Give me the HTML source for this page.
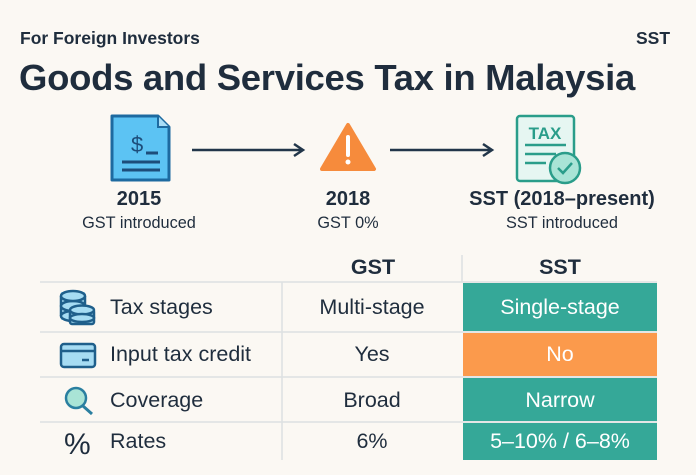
<!DOCTYPE html>
<html><head><meta charset="utf-8"><style>
body{margin:0;width:696px;height:475px;background:#fbf8f3;font-family:"Liberation Sans",sans-serif;color:#1f2d3d;position:relative;overflow:hidden}
.a{position:absolute;white-space:nowrap}
.c{transform:translateX(-50%)}
.cell{position:absolute;display:flex;align-items:center;justify-content:center;font-size:21.5px}
.lab{position:absolute;font-size:21.5px;display:flex;align-items:center}
</style></head><body>
<div class="a" style="left:20px;top:28px;font-size:17.5px;font-weight:bold">For Foreign Investors</div>
<div class="a" style="left:636px;top:28px;font-size:17.5px;font-weight:bold">SST</div>
<div class="a" style="left:19px;top:57px;font-size:36.5px;font-weight:bold;letter-spacing:-0.3px">Goods and Services Tax in Malaysia</div>
<svg class="a" style="left:0;top:0" width="696" height="250">
<path d="M112 116 H158 L169 127 V180 H112 Z" fill="#5cc3f3" stroke="#1d6aa0" stroke-width="3" stroke-linejoin="round"/>
<path d="M158 116 V127 H169" fill="#a8ddf7" stroke="#1d6aa0" stroke-width="2"/>
<text x="131" y="152" font-size="22" font-family="Liberation Sans" fill="#1d4d7a">$</text>
<line x1="146" y1="153" x2="158" y2="153" stroke="#1d4d7a" stroke-width="3"/>
<line x1="122" y1="162" x2="160" y2="162" stroke="#1d4d7a" stroke-width="3"/>
<line x1="122" y1="170" x2="160" y2="170" stroke="#1d4d7a" stroke-width="3"/>
<line x1="192" y1="150" x2="302" y2="150" stroke="#22364a" stroke-width="2.5"/>
<path d="M294 144 L303 150 L294 156" fill="none" stroke="#22364a" stroke-width="2.5"/>
<path d="M348 125 L374 169 H322 Z" fill="#f68b3c" stroke="#f68b3c" stroke-width="4" stroke-linejoin="round"/>
<line x1="348" y1="137" x2="348" y2="155" stroke="#fff" stroke-width="4" stroke-linecap="round"/>
<circle cx="348" cy="162" r="2.5" fill="#fff"/>
<line x1="390" y1="150" x2="491" y2="150" stroke="#22364a" stroke-width="2.5"/>
<path d="M483 144 L492 150 L483 156" fill="none" stroke="#22364a" stroke-width="2.5"/>
<rect x="517" y="116" width="57" height="65" rx="3" fill="#e6f6f2" stroke="#2a9d8a" stroke-width="2.5"/>
<text x="545" y="139" font-size="17" font-weight="bold" text-anchor="middle" font-family="Liberation Sans" fill="#2a9d8a">TAX</text>
<line x1="525" y1="145" x2="566" y2="145" stroke="#2a9d8a" stroke-width="2.5"/>
<line x1="525" y1="154" x2="556" y2="154" stroke="#2a9d8a" stroke-width="2.5"/>
<line x1="525" y1="163" x2="546" y2="163" stroke="#2a9d8a" stroke-width="2.5"/>
<circle cx="565" cy="168" r="15" fill="#a9e4d6" stroke="#2a9d8a" stroke-width="2.5"/>
<path d="M558 168 L563 173 L572 163" fill="none" stroke="#2a9d8a" stroke-width="2.5"/>
</svg>
<div class="a c" style="left:139px;top:188px;font-size:20px;font-weight:bold">2015</div>
<div class="a c" style="left:139px;top:214px;font-size:16.3px">GST introduced</div>
<div class="a c" style="left:348px;top:188px;font-size:20px;font-weight:bold">2018</div>
<div class="a c" style="left:348px;top:214px;font-size:16.3px">GST 0%</div>
<div class="a c" style="left:562px;top:188px;font-size:20px;font-weight:bold">SST (2018–present)</div>
<div class="a c" style="left:562px;top:214px;font-size:16.3px">SST introduced</div>

<div class="cell" style="left:283px;top:252px;width:180px;height:30px;font-weight:bold">GST</div>
<div class="cell" style="left:463px;top:252px;width:194px;height:30px;font-weight:bold">SST</div>
<svg class="a" style="left:0;top:250" width="696" height="225">
<line x1="40" y1="32" x2="657" y2="32" stroke="#dde0e2" stroke-width="1.5"/>
<line x1="40" y1="82" x2="657" y2="82" stroke="#dde0e2" stroke-width="1.5"/>
<line x1="40" y1="127" x2="657" y2="127" stroke="#dde0e2" stroke-width="1.5"/>
<line x1="40" y1="172" x2="657" y2="172" stroke="#dde0e2" stroke-width="1.5"/>
<line x1="282" y1="32" x2="282" y2="210" stroke="#dde0e2" stroke-width="1.5"/>
<line x1="462" y1="5" x2="462" y2="32" stroke="#dde0e2" stroke-width="1.5"/>
<rect x="463" y="33" width="194" height="48" fill="#35a898"/>
<rect x="463" y="83" width="194" height="43" fill="#fb9a4c"/>
<rect x="463" y="128" width="194" height="43" fill="#35a898"/>
<rect x="463" y="173" width="194" height="37" fill="#35a898"/>
<g fill="#a6dcf3" stroke="#1f5f8b" stroke-width="2.5">
<rect x="61" y="42" width="24" height="28" fill="#a6dcf3" stroke="none"/>
<path d="M61 46 V66 M85 46 V56"/>
<ellipse cx="73" cy="66" rx="12" ry="5"/>
<ellipse cx="73" cy="56" rx="12" ry="5"/>
<ellipse cx="73" cy="46" rx="12" ry="5"/>
<rect x="70" y="60" width="24" height="14" rx="2"/>
<ellipse cx="82" cy="60" rx="12" ry="4.5"/>
<ellipse cx="82" cy="68" rx="12" ry="4"/>
<rect x="61" y="94" width="34" height="23" rx="3"/>
<line x1="61" y1="101" x2="95" y2="101"/>
</g>
<line x1="82" y1="110" x2="89" y2="110" stroke="#1f5f8b" stroke-width="2.5"/>
<circle cx="76" cy="148" r="10" fill="#a9e4d6" stroke="#2a7fa0" stroke-width="2.5"/>
<line x1="83" y1="156" x2="92" y2="164" stroke="#2a7fa0" stroke-width="3"/>
<text x="64" y="204" font-size="30" font-family="Liberation Sans" fill="#1f2d3d">%</text>
</svg>
<div class="lab" style="left:110px;top:283px;height:48px">Tax stages</div>
<div class="lab" style="left:110px;top:332px;height:45px">Input tax credit</div>
<div class="lab" style="left:110px;top:378px;height:44px">Coverage</div>
<div class="lab" style="left:110px;top:423px;height:37px">Rates</div>
<div class="cell" style="left:282px;top:283px;width:180px;height:48px">Multi-stage</div>
<div class="cell" style="left:282px;top:332px;width:180px;height:45px">Yes</div>
<div class="cell" style="left:282px;top:378px;width:180px;height:44px">Broad</div>
<div class="cell" style="left:282px;top:423px;width:180px;height:37px">6%</div>
<div class="cell" style="left:463px;top:283px;width:194px;height:48px;color:#fff">Single-stage</div>
<div class="cell" style="left:463px;top:332px;width:194px;height:45px;color:#fff">No</div>
<div class="cell" style="left:463px;top:378px;width:194px;height:44px;color:#fff">Narrow</div>
<div class="cell" style="left:463px;top:423px;width:194px;height:37px;color:#fff">5–10% / 6–8%</div>
</body></html>
